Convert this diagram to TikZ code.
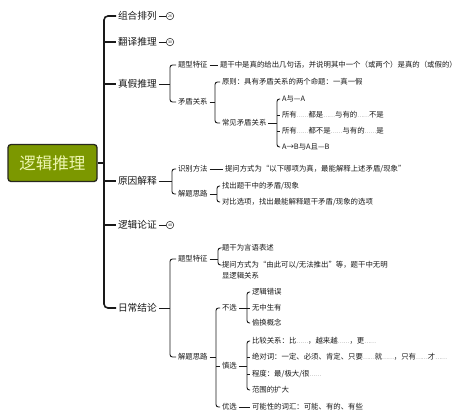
\documentclass[tikz,border=0pt]{standalone}
\usepackage{fontspec}
\setmainfont{Noto Sans CJK SC}
\definecolor{rootgreen}{RGB}{124,152,0}
\definecolor{rootborder}{RGB}{40,40,30}
\definecolor{roottext}{RGB}{238,246,176}
\definecolor{ink}{RGB}{25,25,25}
\definecolor{dotgray}{RGB}{165,165,165}
\newcommand{\dd}{\textcolor{dotgray}{\scalebox{0.75}[1]{……}}}
\begin{document}
\begin{tikzpicture}[x=1pt,y=-1pt,
  l1/.style={anchor=west,inner sep=0pt,outer xsep=2pt,text=ink,font=\fontsize{9.7}{11}\selectfont},
  sm/.style={anchor=west,inner sep=0pt,outer xsep=2pt,text=ink,font=\fontsize{7.4}{9}\selectfont},
  br/.style={draw=ink,line width=0.9pt,rounded corners=2.5pt},
  mainbr/.style={draw=ink,line width=1.6pt,rounded corners=4pt},
  icon/.style={circle,draw=ink,line width=0.5pt,minimum size=7.5pt,inner sep=0pt,text=ink,font=\fontsize{3.4}{4}\selectfont},
  rootbox/.style={draw=rootborder,line width=1.3pt,fill=rootgreen,rounded corners=3pt,minimum width=89pt,minimum height=37pt,inner sep=0pt,text=roottext,font=\fontsize{16.5}{18}\selectfont}
]
\useasboundingbox (0,0) rectangle (474,416);

% root
\node[rootbox] (root) at (52.5,163) {逻辑推理};
\coordinate (b0) at (104,0);

% level 1
\node[l1] (a1) at (116,16) {组合排列};
\node[l1] (a2) at (116,42) {翻译推理};
\node[l1] (a3) at (116,84) {真假推理};
\node[l1] (a4) at (116,181) {原因解释};
\node[l1] (a5) at (116,225) {逻辑论证};
\node[l1] (a6) at (116,308) {日常结论};

\draw[mainbr] (root.east) -- (root.east -| b0);
\draw[mainbr] (a1.west) -- (a1.west -| b0) |- (a6.west);
\foreach \n in {a2,a3,a4,a5} \draw[mainbr] (\n.west -| b0) -- (\n.west);

% icons
\node[icon] (i1) at (170,16) {26};
\node[icon] (i2) at (170,42) {30};
\node[icon] (i5) at (170,225) {48};
\draw[br] (a1.east) -- (i1.west);
\draw[br] (a2.east) -- (i2.west);
\draw[br] (a5.east) -- (i5.west);

% ---- 真假推理
\coordinate (b3) at (170,0);
\node[sm] (b31) at (176,65) {题型特征};
\node[sm] (b32) at (176,102) {矛盾关系};
\draw[br] (a3.east) -- (a3.east -| b3);
\draw[br] (b31.west) -- (b31.west -| b3) |- (b32.west);

\node[sm] (c311) at (218,65) {题干中是真的给出几句话，并说明其中一个（或两个）是真的（或假的）};
\draw[br] (b31.east) -- (c311.west);

\coordinate (b32x) at (215,0);
\node[sm] (c321) at (220,82) {原则：具有矛盾关系的两个命题：一真一假};
\node[sm] (c322) at (220,123) {常见矛盾关系};
\draw[br] (b32.east) -- (b32.east -| b32x);
\draw[br] (c321.west) -- (c321.west -| b32x) |- (c322.west);

\coordinate (b322) at (277,0);
\node[sm] (d1) at (280,99) {A与—A};
\node[sm] (d2) at (280,115) {所有\dd 都是\dd 与有的\dd 不是};
\node[sm] (d3) at (280,131) {所有\dd 都不是\dd 与有的\dd 是};
\node[sm] (d4) at (280,147) {A→B与A且—B};
\draw[br] (c322.east) -- (c322.east -| b322);
\draw[br] (d1.west) -- (d1.west -| b322) |- (d4.west);
\foreach \n in {d2,d3} \draw[br] (\n.west -| b322) -- (\n.west);

% ---- 原因解释
\coordinate (b4) at (172,0);
\node[sm] (e1) at (176,169) {识别方法};
\node[sm] (e2) at (176,194) {解题思路};
\draw[br] (a4.east) -- (a4.east -| b4);
\draw[br] (e1.west) -- (e1.west -| b4) |- (e2.west);

\node[sm] (f1) at (223,169) {提问方式为“以下哪项为真，最能解释上述矛盾/现象”};
\draw[br] (e1.east) -- (f1.west);

\coordinate (b42) at (217,0);
\node[sm] (f2) at (220,186) {找出题干中的矛盾/现象};
\node[sm] (f3) at (220,202) {对比选项，找出最能解释题干矛盾/现象的选项};
\draw[br] (e2.east) -- (e2.east -| b42);
\draw[br] (f2.west) -- (f2.west -| b42) |- (f3.west);

% ---- 日常结论
\coordinate (b6) at (170,0);
\node[sm] (g1) at (176,259) {题型特征};
\node[sm] (g2) at (176,357) {解题思路};
\draw[br] (a6.east) -- (a6.east -| b6);
\draw[br] (g1.west) -- (g1.west -| b6) |- (g2.west);

\coordinate (b61) at (218,0);
\node[sm] (h1) at (220,248) {题干为言语表述};
\node[sm] (h2) at (220,265) {提问方式为“由此可以/无法推出”等，题干中无明};
\node[sm] (h2b) at (220,276) {显逻辑关系};
\draw[br] (g1.east) -- (g1.east -| b61);
\draw[br] (h1.west) -- (h1.west -| b61) |- (h2.west);

\coordinate (b62) at (216,0);
\node[sm] (k1) at (220,308) {不选};
\node[sm] (k2) at (220,366) {慎选};
\node[sm] (k3) at (220,407) {优选};
\draw[br] (g2.east) -- (g2.east -| b62);
\draw[br] (k1.west) -- (k1.west -| b62) |- (k3.west);
\draw[br] (k2.west -| b62) -- (k2.west);

\coordinate (bk1) at (247,0);
\node[sm] (m1) at (250,292) {逻辑错误};
\node[sm] (m2) at (250,308) {无中生有};
\node[sm] (m3) at (250,323) {偷换概念};
\draw[br] (k1.east) -- (k1.east -| bk1);
\draw[br] (m1.west) -- (m1.west -| bk1) |- (m3.west);
\draw[br] (m2.west -| bk1) -- (m2.west);

\coordinate (bk2) at (247,0);
\node[sm] (n1) at (250,341) {比较关系：比\dd ，越来越\dd ，更\dd};
\node[sm] (n2) at (250,357) {绝对词：一定、必须、肯定、只要\dd 就\dd ，只有\dd 才\dd};
\node[sm] (n3) at (250,374) {程度：最/极大/很\dd};
\node[sm] (n4) at (250,390) {范围的扩大};
\draw[br] (k2.east) -- (k2.east -| bk2);
\draw[br] (n1.west) -- (n1.west -| bk2) |- (n4.west);
\foreach \n in {n2,n3} \draw[br] (\n.west -| bk2) -- (\n.west);

\node[sm] (p1) at (250,407) {可能性的词汇：可能、有的、有些};
\draw[br] (k3.east) -- (p1.west);
\end{tikzpicture}
\end{document}
